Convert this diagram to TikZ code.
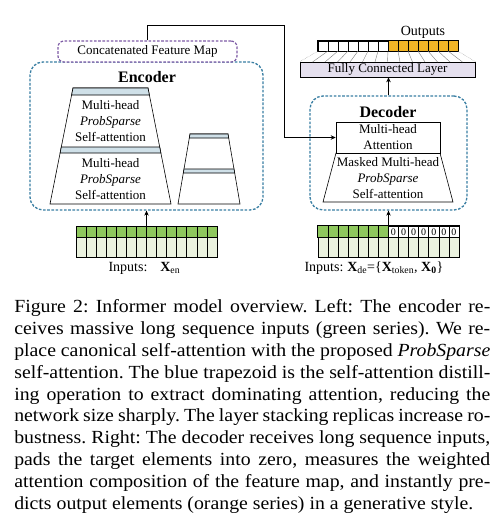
\documentclass[tikz,border=0pt]{standalone}
\usepackage{fontspec}
\setmainfont{Liberation Serif}
\newfontfamily\capfont[FakeStretch=1.07]{Liberation Serif}
\usetikzlibrary{arrows.meta}
\frenchspacing
\definecolor{encblue}{HTML}{3A7FA3}
\definecolor{mappurple}{HTML}{7E5CA6}
\definecolor{tokgreen}{HTML}{8FC85E}
\definecolor{rowgreen}{HTML}{EBF2DF}
\definecolor{outorange}{HTML}{F2B526}
\definecolor{barblue}{HTML}{CFE0E8}
\definecolor{fcpurple}{HTML}{E5E0EE}
\tikzset{
    dashbox/.style={draw=encblue, line width=1.3pt, dash pattern=on 2.6pt off 1.6pt, rounded corners=13pt, inner sep=0pt},
    mapbox/.style={draw=mappurple, line width=1.2pt, dash pattern=on 2.6pt off 1.6pt, rounded corners=6pt, inner sep=0pt, font=\fontsize{13}{15}\selectfont},
    blocktext/.style={font=\fontsize{13}{16}\selectfont, align=center, inner sep=0pt},
    blocktitle/.style={font=\fontsize{16}{18}\selectfont\bfseries, inner sep=0pt},
    tokrow/.style={draw, minimum width=141pt, inner sep=0pt},
    zero/.style={font=\fontsize{10}{10}\selectfont, inner sep=0pt},
    inlabel/.style={font=\fontsize{14}{16}\selectfont, inner sep=0pt},
    arr/.style={line width=0.7pt, -{Stealth[length=5pt,width=4.5pt]}}
}
\begin{document}
\begin{tikzpicture}[x=1pt, y=-1pt, line width=0.6pt]
        \useasboundingbox (0,0) rectangle (503,523);
        \fill[white] (0,0) rectangle (503,523);
        % encoder
        \node[dashbox, minimum width=233pt, minimum height=148pt] (enc) at (146.5,136) {};
        \node[mapbox, fill=white, minimum width=179pt, minimum height=21pt] (concat) at (147.5,51.5) {Concatenated Feature Map};
        \node[blocktitle] (enctitle) at (147,77) {Encoder};
        \filldraw[fill=white] (73,88) -- (148,88) -- (171,204) -- (50,204) -- cycle;
        \filldraw[fill=barblue] (73,88) -- (148,88) -- (149.4,95) -- (71.6,95) -- cycle;
        \filldraw[fill=barblue] (61.3,147) -- (159.7,147) -- (160.9,153) -- (60.1,153) -- cycle;
        \node[blocktext] (encatt1) at (110.5,121) {Multi-head\\\textit{ProbSparse}\\Self-attention};
        \node[blocktext] (encatt2) at (110.5,179) {Multi-head\\\textit{ProbSparse}\\Self-attention};
        \filldraw[fill=white] (190,134) -- (228,134) -- (240,204) -- (178,204) -- cycle;
        \filldraw[fill=barblue] (190,134) -- (228,134) -- (228.7,138) -- (189.3,138) -- cycle;
        \filldraw[fill=barblue] (184,169) -- (234,169) -- (234.7,173) -- (183.3,173) -- cycle;
        \node[tokrow, fill=tokgreen, minimum height=11pt] (enctok) at (146.5,231.5) {};
        \node[tokrow, fill=rowgreen, minimum height=20pt] (encrow) at (146.5,247) {};
        \foreach \i in {1,...,13}
            \draw (76+\i*10.07,226) -- (76+\i*10.07,257);
        \node[inlabel] (enclab) at (128,268) {Inputs:};
        \node[inlabel, anchor=west] (encx) at (160,268) {\textbf{X}\textsubscript{en}};
        \draw[arr] (enctok.south) -- (enc.south);
        % decoder
        \node[dashbox, minimum width=157pt, minimum height=114pt] (dec) at (388.5,153) {};
        \node[blocktitle] (dectitle) at (388,112) {Decoder};
        \filldraw[fill=white] (336,153) -- (440,153) -- (453,202) -- (323,202) -- cycle;
        \node[draw, fill=white, blocktext, minimum width=104pt, minimum height=31pt] (decatt) at (388,137.5) {Multi-head\\Attention};
        \node[blocktext] (decmask) at (388,178) {Masked Multi-head\\\textit{ProbSparse}\\Self-attention};
        \node[tokrow, fill=white, minimum height=11pt] (dectok) at (388.5,231.5) {};
        \fill[tokgreen] (dectok.north west) rectangle (dectok.south);
        \draw (dectok.north west) rectangle (dectok.south east);
        \node[tokrow, fill=rowgreen, minimum height=20pt] (decrow) at (388.5,247) {};
        \foreach \i in {1,...,13}
            \draw (318+\i*10.07,226) -- (318+\i*10.07,257);
        \foreach \i in {7,...,13}
            \node[zero] (z\i) at (318+\i*10.07+5,231.8) {0};
        \node[inlabel] (declab) at (324,268) {Inputs:};
        \node[inlabel, anchor=west] (decx) at (347,268) {\textbf{X}\textsubscript{de}=\{\textbf{X}\textsubscript{token}, \textbf{X}\textsubscript{\textbf{0}}\}};
        \draw[arr] (dectok.south) -- (dec.south);
        % outputs
        \node[tokrow, fill=white, minimum width=140pt, minimum height=10pt] (outrow) at (388,46) {};
        \fill[outorange] (outrow.north) rectangle (outrow.south east);
        \draw (outrow.north west) rectangle (outrow.south east);
        \foreach \i in {1,...,13}
            \draw (318+\i*10,41) -- (318+\i*10,51);
        \node[inlabel] (outlab) at (423,32) {Outputs};
        \node[draw, fill=fcpurple, blocktext, minimum width=175pt, minimum height=15pt] (fc) at (387.5,69.5) {Fully Connected Layer};
        \draw[gray, densely dotted, line width=0.4pt] (outrow.south west) -- (fc.north west);
        \draw[gray, densely dotted, line width=0.4pt] (outrow.south east) -- (fc.north east);
        \foreach \i in {1,...,13}
            \draw[gray, line width=0.4pt] (318+\i*10,51) -- (300+\i*12.5,62);
        \draw[arr] (dec.north) -- (dec.north |- fc.south);
        \coordinate (bend) at (284,25);
        \draw[arr] (concat.north) |- (bend) |- (decatt.west);
        % caption
        \node[anchor=north west, inner sep=0pt, align=left, font=\capfont\fontsize{18.5}{21.8}\selectfont] (caption) at (14,299.5) {%
            \makebox[476pt][s]{Figure 2: Informer model overview. Left: The encoder re-}\\
            \makebox[476pt][s]{ceives massive long sequence inputs (green series). We re-}\\
            \makebox[476pt][s]{place canonical self-attention with the proposed \textit{ProbSparse}}\\
            \makebox[476pt][s]{self-attention. The blue trapezoid is the self-attention distill-}\\
            \makebox[476pt][s]{ing operation to extract dominating attention, reducing the}\\
            \makebox[476pt][s]{network size sharply. The layer stacking replicas increase ro-}\\
            \makebox[476pt][s]{bustness. Right: The decoder receives long sequence inputs,}\\
            \makebox[476pt][s]{pads the target elements into zero, measures the weighted}\\
            \makebox[476pt][s]{attention composition of the feature map, and instantly pre-}\\
            dicts output elements (orange series) in a generative style.};
    \end{tikzpicture}
\end{document}
